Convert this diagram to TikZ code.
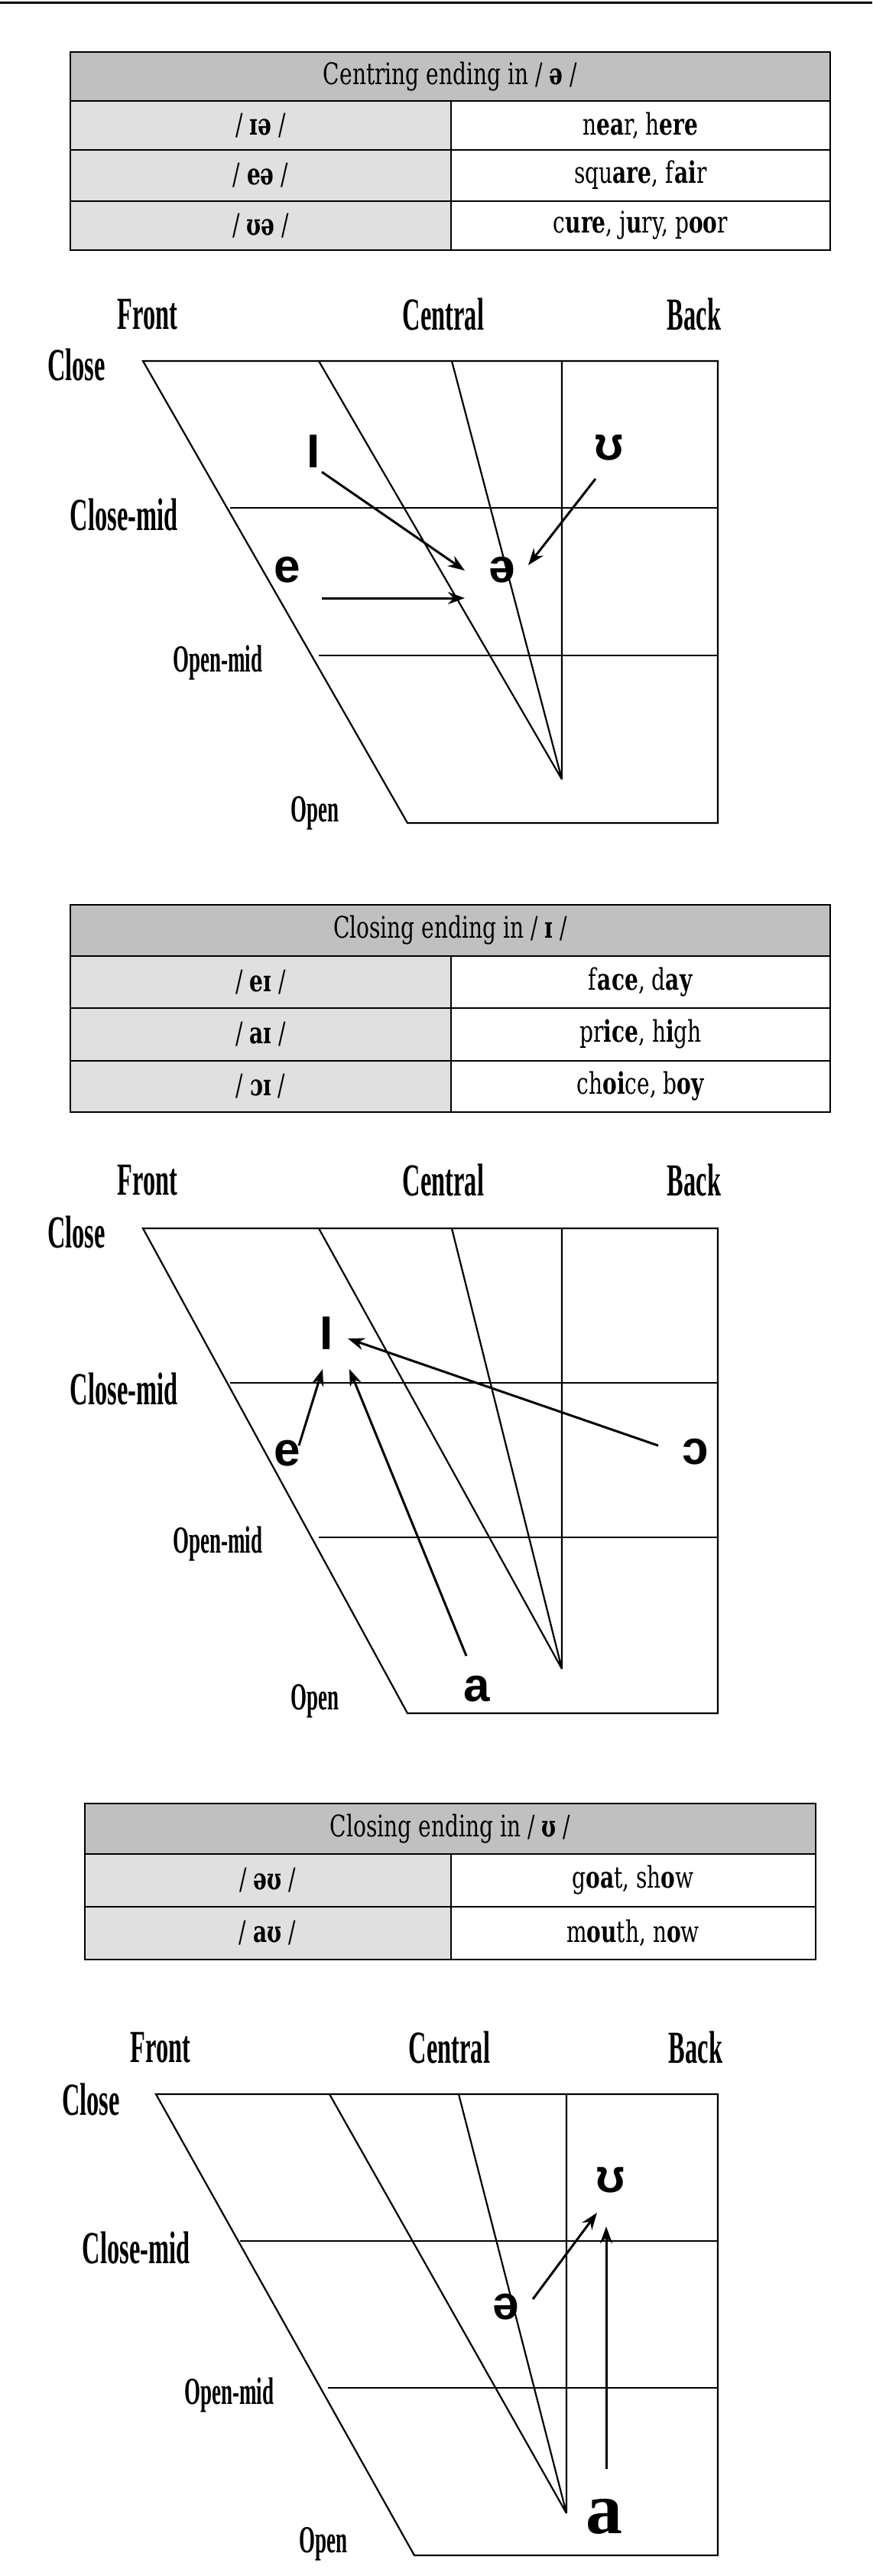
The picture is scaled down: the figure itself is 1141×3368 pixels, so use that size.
\documentclass[tikz,border=0pt]{standalone}
\usepackage{fontspec}
\usetikzlibrary{arrows.meta}
\newfontfamily\tabf{DejaVu Serif}
\newfontfamily\labf{Liberation Serif}
\newfontfamily\symf{Liberation Sans}
\newcommand\tx[1]{\scalebox{0.78}[1.08]{\tabf\fontsize{36}{36}\selectfont #1}}
\newcommand\chl[2]{\scalebox{0.54}[1]{\labf\bfseries\fontsize{#1}{#1}\selectfont #2}}
\definecolor{hdr}{HTML}{C0C0C0}
\definecolor{cel}{HTML}{E0E0E0}
\tikzset{
  grid/.style={line width=2.2pt},
  tbl/.style={line width=2.4pt},
  arr/.style={line width=3pt,-{Stealth[length=22pt,width=16pt]}},
  sym/.style={font=\symf\bfseries\fontsize{62}{62}\selectfont,inner sep=0pt},
  lb/.style={inner sep=0pt}
}
\begin{document}
\begin{tikzpicture}[x=1pt,y=-1pt]
\useasboundingbox (0,0) rectangle (1141,3368);
\fill[white] (0,0) rectangle (1141,3368);
\draw[line width=3pt] (0,3) -- (1141,3);

% ---------- Table 1
\fill[hdr] (92,68) rectangle (1086,132);
\fill[cel] (92,132) rectangle (590,327);
\draw[tbl] (92,68) rectangle (1086,327);
\draw[tbl] (92,132) -- (1086,132) (92,196) -- (1086,196) (92,263) -- (1086,263) (590,132) -- (590,327);
\node (t1h) at (589,100) {\tx{Centring ending in / \textbf{ə} /}};
\node (t1a) at (341,164) {\tx{/ \textbf{ɪə} /}};
\node (t1b) at (341,229) {\tx{/ \textbf{eə} /}};
\node (t1c) at (341,295) {\tx{/ \textbf{ʊə} /}};
\node (t1d) at (838,164) {\tx{n\textbf{ea}r, h\textbf{ere}}};
\node (t1e) at (838,229) {\tx{squ\textbf{are}, f\textbf{ai}r}};
\node (t1f) at (838,295) {\tx{c\textbf{ure}, j\textbf{u}ry, p\textbf{oo}r}};

% ---------- Chart 1
\draw[grid] (187,472) -- (939,472) -- (939,1076) -- (533,1076) -- cycle;
\draw[grid] (301,664) -- (939,664) (417,857) -- (939,857);
\draw[grid] (735,472) -- (735,1019) (417,472) -- (735,1019) (591,472) -- (735,1019);
\node[lb] (f1) at (193,411) {\chl{60}{Front}};
\node[lb] (c1) at (580,411) {\chl{60}{Central}};
\node[lb] (b1) at (908,411) {\chl{60}{Back}};
\node[lb] (cl1) at (100,477) {\chl{60}{Close}};
\node[lb] (cm1) at (162,673) {\chl{60}{Close-mid}};
\node[lb] (om1) at (285,866) {\chl{50}{Open-mid}};
\node[lb] (op1) at (412,1063) {\chl{50}{Open}};
\node[sym] (i1) at (410,590) {I};
\node[sym] (u1) at (797,585) {ʊ};
\node[sym] (e1) at (376,745) {e};
\node[sym] (s1) at (657,745) {ə};
\coordinate (i1s) at (421,617); \coordinate (i1e) at (608,746);
\coordinate (u1s) at (779,626); \coordinate (u1e) at (691,739);
\coordinate (e1s) at (421,782); \coordinate (e1e) at (608,782);
\draw[arr] (i1s) -- (i1e);
\draw[arr] (u1s) -- (u1e);
\draw[arr] (e1s) -- (e1e);

% ---------- Table 2
\fill[hdr] (92,1183) rectangle (1086,1250);
\fill[cel] (92,1250) rectangle (590,1454);
\draw[tbl] (92,1183) rectangle (1086,1454);
\draw[tbl] (92,1250) -- (1086,1250) (92,1318) -- (1086,1318) (92,1387) -- (1086,1387) (590,1250) -- (590,1454);
\node (t2h) at (589,1216) {\tx{Closing ending in / \textbf{ɪ} /}};
\node (t2a) at (341,1284) {\tx{/ \textbf{eɪ} /}};
\node (t2b) at (341,1352) {\tx{/ \textbf{aɪ} /}};
\node (t2c) at (341,1420) {\tx{/ \textbf{ɔɪ} /}};
\node (t2d) at (838,1284) {\tx{f\textbf{ace}, d\textbf{ay}}};
\node (t2e) at (838,1352) {\tx{pr\textbf{ice}, h\textbf{i}gh}};
\node (t2f) at (838,1420) {\tx{ch\textbf{oi}ce, b\textbf{oy}}};

% ---------- Chart 2
\draw[grid] (187,1606) -- (939,1606) -- (939,2240) -- (533,2240) -- cycle;
\draw[grid] (301,1808) -- (939,1808) (417,2010) -- (939,2010);
\draw[grid] (735,1606) -- (735,2182) (417,1606) -- (735,2182) (591,1606) -- (735,2182);
\node[lb] (f2) at (193,1543) {\chl{60}{Front}};
\node[lb] (c2) at (580,1543) {\chl{60}{Central}};
\node[lb] (b2) at (908,1543) {\chl{60}{Back}};
\node[lb] (cl2) at (100,1611) {\chl{60}{Close}};
\node[lb] (cm2) at (162,1816) {\chl{60}{Close-mid}};
\node[lb] (om2) at (285,2018) {\chl{50}{Open-mid}};
\node[lb] (op2) at (412,2224) {\chl{50}{Open}};
\node[sym] (i2) at (427,1743) {I};
\node[sym] (e2) at (376,1900) {e};
\node[sym] (o2) at (910,1898) {ɔ};
\node[sym] (a2) at (624,2208) {a};
\coordinate (e2s) at (391,1890); \coordinate (e2e) at (422,1790);
\coordinate (a2s) at (610,2165); \coordinate (a2e) at (457,1790);
\coordinate (o2s) at (861,1890); \coordinate (o2e) at (455,1750);
\draw[arr] (e2s) -- (e2e);
\draw[arr] (a2s) -- (a2e);
\draw[arr] (o2s) -- (o2e);

% ---------- Table 3
\fill[hdr] (111,2358) rectangle (1067,2424);
\fill[cel] (111,2424) rectangle (590,2562);
\draw[tbl] (111,2358) rectangle (1067,2562);
\draw[tbl] (111,2424) -- (1067,2424) (111,2493) -- (1067,2493) (590,2424) -- (590,2562);
\node (t3h) at (589,2391) {\tx{Closing ending in / \textbf{ʊ} /}};
\node (t3a) at (350,2458) {\tx{/ \textbf{əʊ} /}};
\node (t3b) at (350,2527) {\tx{/ \textbf{aʊ} /}};
\node (t3d) at (828,2458) {\tx{g\textbf{oa}t, sh\textbf{o}w}};
\node (t3e) at (828,2527) {\tx{m\textbf{ou}th, n\textbf{o}w}};

% ---------- Chart 3
\draw[grid] (204,2738) -- (939,2738) -- (939,3341) -- (542,3341) -- cycle;
\draw[grid] (314,2930) -- (939,2930) (429,3122) -- (939,3122);
\draw[grid] (741,2738) -- (741,3286) (431,2738) -- (741,3286) (600,2738) -- (741,3286);
\node[lb] (f3) at (210,2677) {\chl{60}{Front}};
\node[lb] (c3) at (588,2677) {\chl{60}{Central}};
\node[lb] (b3) at (910,2677) {\chl{60}{Back}};
\node[lb] (cl3) at (119,2745) {\chl{60}{Close}};
\node[lb] (cm3) at (178,2939) {\chl{60}{Close-mid}};
\node[lb] (om3) at (300,3131) {\chl{50}{Open-mid}};
\node[lb] (op3) at (423,3326) {\chl{50}{Open}};
\node[sym] (u3) at (799,2850) {ʊ};
\node[sym] (s3) at (662,3016) {ə};
\node[inner sep=0pt,font=\labf\bfseries\fontsize{96}{96}\selectfont] (a3) at (790,3290) {a};
\coordinate (s3s) at (697,3006); \coordinate (s3e) at (781,2893);
\coordinate (a3s) at (793,3228); \coordinate (a3e) at (793,2911);
\draw[arr] (s3s) -- (s3e);
\draw[arr] (a3s) -- (a3e);
\end{tikzpicture}
\end{document}
